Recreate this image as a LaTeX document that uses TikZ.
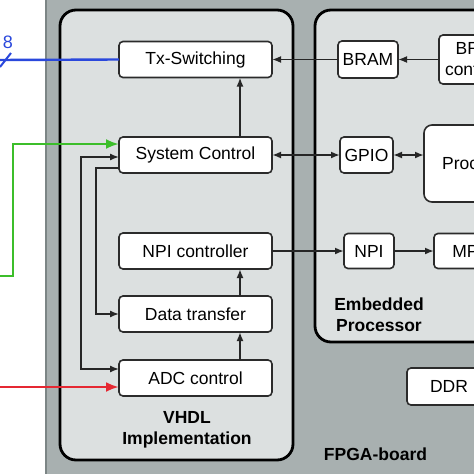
\documentclass[tikz,border=0pt]{standalone}
\usepackage{fontspec}
\setmainfont{Liberation Sans}
\usetikzlibrary{arrows.meta,calc}
\definecolor{cA8B0B0}{RGB}{168,176,176}
\definecolor{c7C8585}{RGB}{124,133,133}
\definecolor{cDCE0E0}{RGB}{220,224,224}
\definecolor{c2B2B2B}{RGB}{43,43,43}
\definecolor{c2A48DC}{RGB}{42,72,220}
\definecolor{c3CBE2A}{RGB}{60,190,42}
\definecolor{cE52832}{RGB}{229,40,50}

\begin{document}
\begin{tikzpicture}[y=1pt,x=1pt,yscale=-1, inner sep=0pt, outer sep=0pt,
    font=\fontsize{17.5}{21}\selectfont,
    blk/.style={draw=c2B2B2B,fill=white,line width=1.6pt,rounded corners=4pt,
      minimum height=36pt,align=center},
    arr/.style={draw=black!85,line width=1.8pt,-{Latex[length=9pt,width=7pt]}},
    darr/.style={draw=black!85,line width=1.8pt,{Latex[length=9pt,width=7pt]}-{Latex[length=9pt,width=7pt]}},
    thinarr/.style={draw=black!85,line width=1.4pt,-{Latex[length=9pt,width=7pt]}},
    thindarr/.style={draw=black!85,line width=1.4pt,{Latex[length=9pt,width=7pt]}-{Latex[length=9pt,width=7pt]}},
    lbl/.style={font=\fontsize{17.5}{21}\selectfont\bfseries,align=center}]
  \useasboundingbox (0,0) rectangle (474,474);
  \clip (0,0) rectangle (474,474);
  \path[fill=white] (0,0) rectangle (474,474);
  % FPGA board
  \path[fill=cA8B0B0,draw=c7C8585,line width=1.5pt] (46,-5) rectangle (490,490);
  % VHDL part and embedded processor
  \path[fill=cDCE0E0,draw=black,line width=2.8pt,rounded corners=16pt] (60,10) rectangle (293,460);
  \path[fill=cDCE0E0,draw=black,line width=2.8pt,rounded corners=16pt] (315,10) rectangle (500,342);

  \node[blk,minimum width=153pt] (tx) at (195.5,59.5) {Tx-Switching};
  \node[blk,minimum width=153pt] (sysctl) at (195.5,155) {System Control};
  \node[blk,minimum width=153pt] (npictl) at (195.5,251) {NPI controller};
  \node[blk,minimum width=153pt] (dtrans) at (195.5,314) {Data transfer};
  \node[blk,minimum width=153pt] (adc) at (195.5,378) {ADC control};
  \node[lbl] (vhdl) at (187,430) {VHDL\\Implementation};

  \node[blk,minimum width=60pt,minimum height=37pt] (bram) at (368,59.5) {BRAM};
  \node[blk,minimum width=84pt,minimum height=49pt] (bramctl) at (481,59.5) {BRAM\\controller};
  \node[blk,minimum width=53pt] (gpio) at (366.5,155) {GPIO};
  \node[blk,minimum width=115pt,minimum height=77pt,rounded corners=8pt] (proc) at (481.5,163.5) {Processor};
  \node[blk,minimum width=50pt,minimum height=35pt] (npi) at (369,251) {NPI};
  \node[blk,minimum width=90pt,minimum height=35pt] (mpmc) at (479,251) {MPMC};
  \node[lbl] (emb) at (379,315) {Embedded\\Processor};
  \node[blk,minimum width=84pt,minimum height=37pt] (ddr) at (449,386.5) {DDR};
  \node[lbl] (fpga) at (375.5,454) {FPGA-board};

  % connections
  \coordinate (vx) at (240,0);
  \draw[arr] (bram.west) -- (tx.east);
  \draw[arr] (bramctl.west) -- (bram.east);
  \draw[darr] (sysctl.east) -- (gpio.west);
  \draw[darr] (gpio.east) -- (gpio.east -| proc.west);
  \draw[arr] (vx |- sysctl.north) -- (vx |- tx.south);
  \draw[arr] (npictl.east) -- (npi.west);
  \draw[arr] (npi.east) -- (mpmc.west);
  \draw[arr] (vx |- adc.north) -- (vx |- dtrans.south);
  \draw[arr] (vx |- dtrans.north) -- (vx |- npictl.south);
  \draw[thindarr] ($(sysctl.west)+(0,2)$) -- ++(-38,0) |- ($(adc.west)+(0,-9)$);
  \draw[thinarr] ($(sysctl.west)+(0,13)$) -- ++(-23,0) |- (dtrans.west);

  % external signals
  \coordinate (bluein) at (-2,60);
  \coordinate (greenin) at (-2,276);
  \coordinate (redin) at (-2,387);
  \draw[draw=c2A48DC,line width=2.4pt] (bluein) -- (tx.west);
  \draw[draw=c2A48DC,line width=2pt] (0,67) -- (11,53);
  \node[text=c2A48DC,font=\fontsize{18}{20}\selectfont] (bus) at (8,42) {8};
  \draw[draw=c3CBE2A,line width=2.6pt,-{Latex[length=13pt,width=10pt]}]
    (greenin) -- (13,276) -- (13,144) -- ($(sysctl.west)+(0,-11)$);
  \draw[draw=cE52832,line width=2.6pt,-{Latex[length=13pt,width=10pt]}]
    (redin) -- ($(adc.west)+(0,9)$);
\end{tikzpicture}
\end{document}
